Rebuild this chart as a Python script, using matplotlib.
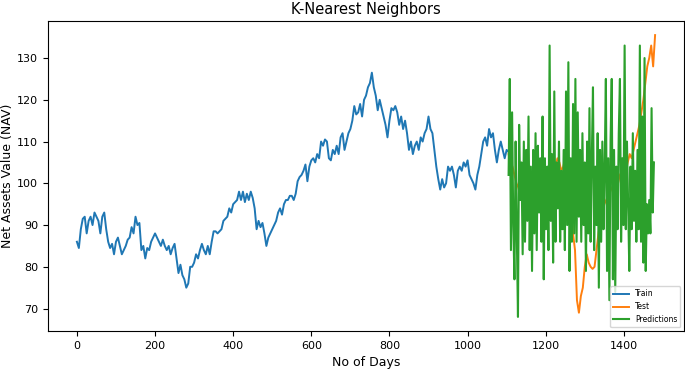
import numpy as np
import matplotlib.pyplot as plt

# train NAV, one reading every 5 days from day 0 to 1105
train_days = np.arange(0, 1110, 5)
train_nav = [
    86, 84.5, 89, 91.5, 92, 88, 91, 92, 90, 93,
    92, 91, 88, 92, 93, 89, 86, 84.5, 85.5, 83,
    86, 87, 85, 83, 84, 85, 86.5, 87, 89.5, 88,
    92, 90, 90.5, 84, 85, 82, 84.5, 84, 86, 87,
    88, 87, 86, 85, 86.5, 85, 84, 85, 83, 84.5,
    85.5, 82, 78.5, 80.5, 78, 77, 75, 76, 80, 80,
    81, 83, 82, 84, 85.5, 84, 83, 85, 83, 86,
    88.5, 88.5, 88, 88.5, 89, 91, 91.5, 92, 94, 93,
    95, 95.5, 96, 98, 96, 98, 95.5, 97.5, 96, 98,
    96.5, 94, 89, 91, 89.5, 90.5, 88, 85, 87, 88,
    89, 90, 91, 93, 94, 92.5, 95, 96, 96, 97,
    97, 96, 97.5, 100.5, 101.5, 102, 103, 104.5, 100.5, 104,
    105.5, 106, 105, 107, 106, 110, 109, 110.5, 110, 106,
    105.5, 108, 107, 109, 107, 111, 112, 108, 110, 112,
    113, 115, 118.5, 116.5, 117, 119, 116, 120, 121, 123,
    124, 126.5, 123, 121, 117.5, 120, 118, 116, 114, 111,
    115, 118, 117.5, 118.5, 117, 114, 116, 113, 115, 112,
    108, 110, 107, 109, 110, 108, 111, 110, 112, 113,
    116, 113, 112, 108, 104, 101, 98.5, 101, 99, 100,
    104, 103, 104, 102, 99, 103, 104, 103, 105, 104,
    105.5, 102, 101, 100, 98.5, 102, 104, 107, 110, 111,
    109, 113, 111, 112, 108, 105, 108, 110, 108, 106,
    108, 107.5,
]

# test NAV, every 5 days from day 1105 to 1480
test_days = np.arange(1105, 1485, 5)
test_nav = [
    107, 105, 104, 102, 100, 99, 97, 98, 96, 95,
    97, 99, 101, 100, 102, 101, 103, 102, 104, 103,
    102, 104, 103, 105, 104, 106, 105, 103, 104, 106,
    105, 101, 96, 88, 84, 72, 69, 73, 75, 80,
    83, 81, 80, 79.5, 80, 84, 88, 91, 93, 95,
    96, 97, 98, 99, 100, 101, 100, 102, 103, 104,
    103, 105, 107, 106, 108, 110, 112, 114, 117, 120,
    124, 128, 130, 133, 128, 135.5,
]

# KNN predictions, every 3 days from day 1105 to 1477
pred_days = np.arange(1105, 1480, 3)
pred_nav = [
    102, 125, 84, 117, 90, 77, 110, 88, 68, 114,
    96, 105, 83, 110, 86, 108, 91, 116, 84, 104,
    79, 108, 88, 112, 84, 109, 93, 106, 86, 116,
    77, 106, 89, 104, 84, 133, 91, 107, 81, 122,
    86, 105, 94, 110, 86, 103, 89, 108, 84, 122,
    90, 129, 79, 106, 86, 119, 88, 125, 86, 117,
    92, 108, 86, 112, 90, 105, 79, 110, 88, 118,
    86, 106, 123, 84, 104, 90, 112, 75, 108, 86,
    110, 89, 104, 125, 79, 106, 72, 110, 125, 77,
    108, 74, 104, 89, 112, 125, 86, 106, 90, 133,
    89, 110, 95, 79, 104, 89, 112, 91, 103, 86,
    108, 89, 133, 86, 116, 81, 130, 79, 95, 88,
    96, 88, 118, 93, 105,
]

fig = plt.figure(figsize=(6.85, 3.69), dpi=100)
ax = fig.add_axes([48 / 685, 38 / 369, 636 / 685, 310 / 369])

ax.plot(train_days, train_nav, color='#1f77b4', lw=1.4, label='Train')
ax.plot(test_days, test_nav, color='#ff7f0e', lw=1.4, label='Test')
ax.plot(pred_days, pred_nav, color='#2ca02c', lw=1.5, label='Predictions')

ax.set_title('K-Nearest Neighbors', fontsize=10.5, pad=5)
ax.set_xlabel('No of Days', fontsize=9)
ax.set_ylabel('Net Assets Value (NAV)', fontsize=9, labelpad=2)
ax.tick_params(labelsize=8)
ax.set_xticks(np.arange(0, 1600, 200))
ax.set_yticks(np.arange(70, 140, 10))
ax.legend(loc='lower right', fontsize=5.5)

fig.savefig('out.png', dpi=100)
